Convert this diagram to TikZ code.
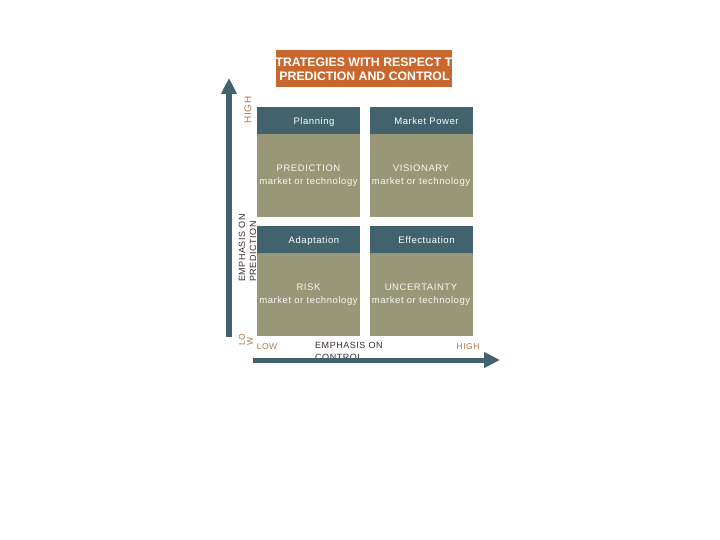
\documentclass[tikz,border=0pt]{standalone}
\usepackage{fontspec}
\setmainfont{Liberation Sans}
\newfontfamily\widefont[LetterSpace=6]{Liberation Sans}
\usepackage{tikz}
\usetikzlibrary{arrows.meta,positioning}
\usepackage{xcolor}
\definecolor{qteal}{RGB}{66,99,110}
\definecolor{qolive}{RGB}{152,152,120}
\definecolor{qorange}{RGB}{200,104,46}
\definecolor{qtan}{RGB}{178,122,72}
\definecolor{qdark}{RGB}{58,44,52}
\tikzstyle{headbox} = [fill=qteal, text=white, minimum width=103pt, minimum height=27pt, inner sep=0pt, text height=8pt, text depth=0pt, execute at begin node=\hspace*{11pt}, font=\widefont\fontsize{9.5}{11}\selectfont]
\tikzstyle{bodybox} = [fill=qolive, text=white!92!qolive, minimum width=103pt, minimum height=83pt, inner sep=0pt, align=center, font=\widefont\fontsize{9.5}{12.5}\selectfont]
\tikzstyle{axislabel} = [inner sep=0pt, font=\widefont\fontsize{8.5}{9}\selectfont]
\tikzstyle{axis} = [qteal, line width=6pt, -{Triangle[length=16pt,width=15pt]}]

\begin{document}
\begin{tikzpicture}[x=1pt, y=-1pt]
\useasboundingbox (0,0) rectangle (720,540);
% Title box, text runs past its edges
\fill[qorange] (276,50) rectangle (452,87);
\begin{scope}
\clip (276,50) rectangle (452,87);
\node[align=center, text=white, inner sep=0pt, font=\bfseries\fontsize{12.3}{14}\selectfont] (title) at (364.5,69.5) {STRATEGIES WITH RESPECT TO\\PREDICTION AND CONTROL};
\end{scope}

% Quadrants
\node[headbox] (plan) at (308.5,120.5) {Planning};
\node[bodybox, below=0pt of plan] (pred) {PREDICTION\\market or technology};
\node[headbox] (power) at (421,120.5) {Market Power};
\node[bodybox, below=0pt of power] (vis) {VISIONARY\\market or technology};
\node[headbox] (adapt) at (308.5,239.5) {Adaptation};
\node[bodybox, below=0pt of adapt] (risk) {RISK\\market or technology};
\node[headbox] (effect) at (421,239.5) {Effectuation};
\node[bodybox, below=0pt of effect] (uncert) {UNCERTAINTY\\market or technology};

% Axis labels
\node[axislabel, rotate=90, text=qtan, font=\widefont\fontsize{10}{10}\selectfont] (yhigh) at (248,110) {HIGH};
\node[axislabel, rotate=90, anchor=west, align=left, text=qdark, font=\widefont\fontsize{9}{11}\selectfont] (ylabel) at (247.5,282) {EMPHASIS ON\\PREDICTION};
\node[axislabel, rotate=90, anchor=west, align=left, text=qtan, font=\widefont\fontsize{8.5}{8}\selectfont] (ylow) at (246,346) {LO\\W};
\node[axislabel, text=qtan] (xlow) at (267,347) {LOW};
\node[axislabel, anchor=north west, align=left, text=qdark, font=\widefont\fontsize{9}{12}\selectfont] (xlabel) at (315,342) {EMPHASIS ON\\CONTROL};
\node[axislabel, text=qtan] (xhigh) at (468,347) {HIGH};

% Arrows
\coordinate (ybot) at (229,337);
\coordinate (ytop) at (229,78);
\coordinate (xleft) at (253,360);
\coordinate (xright) at (500,360);
\draw[axis] (ybot) -- (ytop);
\draw[axis, line width=5pt] (xleft) -- (xright);
\end{tikzpicture}
\end{document}
